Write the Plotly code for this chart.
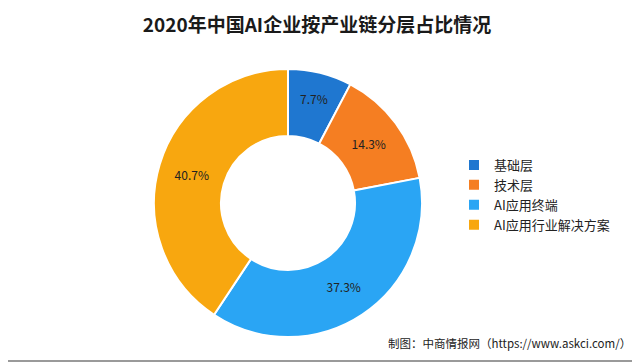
import plotly.graph_objects as go

categories = ["基础层", "技术层", "AI应用终端", "AI应用行业解决方案"]
values = [7.7, 14.3, 37.3, 40.7]
colors = ["#1F77D0", "#F57E22", "#2AA5F4", "#F8A70F"]

title_text = "2020年中国AI企业按产业链分层占比情况"
source_text = "制图：中商情报网（https://www.askci.com/）"

W, H = 640, 363
OFF = 8  # page body margin compensation
cx, cy, r = 288 - OFF, 203 - OFF, 134

fig = go.Figure()
fig.add_trace(go.Pie(
    labels=categories,
    values=values,
    hole=0.5,
    sort=False,
    direction="clockwise",
    rotation=0,
    marker=dict(colors=colors, line=dict(color="white", width=2)),
    texttemplate="%{value}%",
    textposition="inside",
    insidetextorientation="horizontal",
    textfont=dict(family="Noto Sans CJK SC", size=12, color="#222222"),
    domain=dict(x=[(cx - r) / W, (cx + r) / W], y=[1 - (cy + r) / H, 1 - (cy - r) / H]),
    showlegend=True,
    hoverinfo="label+percent",
))

fig.update_layout(
    width=W, height=H,
    paper_bgcolor="white", plot_bgcolor="white",
    margin=dict(l=0, r=0, t=0, b=0),
    title=dict(text="<b>" + title_text + "</b>", x=(317 - OFF) / W, xanchor="center",
               y=1 - (25 - OFF) / H, yanchor="middle",
               font=dict(family="Noto Sans CJK SC", size=19, color="#1a1a1a")),
    legend=dict(x=(454 - OFF) / W, y=1 - (195 - OFF) / H, xanchor="left", yanchor="middle",
                font=dict(family="Noto Sans CJK SC", size=13, color="#222222"),
                itemwidth=30, bgcolor="rgba(0,0,0,0)"),
    annotations=[dict(text=source_text, x=(633 - OFF) / W, y=1 - (343 - OFF) / H,
                      xref="paper", yref="paper",
                      xanchor="right", yanchor="middle", showarrow=False,
                      font=dict(family="Noto Sans CJK SC", size=11.5, color="#222222"))],
    shapes=[dict(type="line", xref="paper", yref="paper", x0=0, x1=1,
                 y0=1 - (361 - OFF) / H, y1=1 - (361 - OFF) / H,
                 line=dict(color="#9a9a9a", width=2))],
)

fig.write_html("out.html")
